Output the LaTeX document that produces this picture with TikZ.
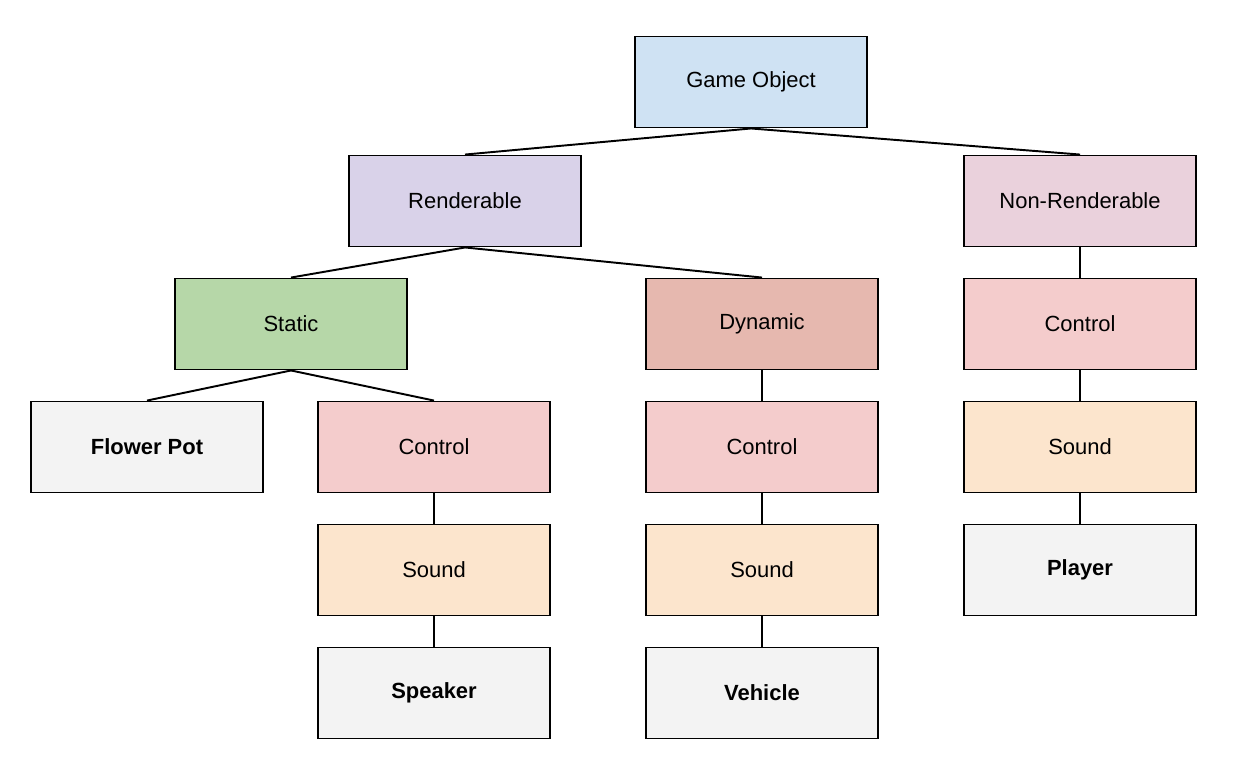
\documentclass[tikz,border=0pt]{standalone}
\usepackage{fontspec}
\setmainfont{Liberation Sans}
\definecolor{cblue}{HTML}{CFE2F3}
\definecolor{cpurple}{HTML}{D9D2E9}
\definecolor{cnr}{HTML}{EAD1DC}
\definecolor{cgreen}{HTML}{B6D7A8}
\definecolor{cdyn}{HTML}{E6B8AF}
\definecolor{cctl}{HTML}{F4CCCC}
\definecolor{csnd}{HTML}{FCE5CD}
\definecolor{cgray}{HTML}{F3F3F3}
\begin{document}
\begin{tikzpicture}[x=0.02cm,y=-0.02cm,
  box/.style={draw=black,line width=1.1pt,minimum width=4.64cm,minimum height=1.82cm,inner sep=0pt,font=\fontsize{12.5}{15}\selectfont},
  leaf/.style={box,fill=cgray,font=\fontsize{12.5}{15}\selectfont\bfseries},
  link/.style={line width=1.1pt}]
\useasboundingbox (0,0) rectangle (1246,782);
\node[box,fill=cblue] (go) at (751,82) {Game Object};
\node[box,fill=cpurple] (ren) at (465,201) {Renderable};
\node[box,fill=cnr] (nr) at (1080,201) {Non-Renderable};
\node[box,fill=cgreen] (st) at (291,324) {Static};
\node[box,fill=cdyn] (dy) at (762,324) {Dynamic};
\node[box,fill=cctl] (c3) at (1080,324) {Control};
\node[leaf] (fp) at (147,447) {Flower Pot};
\node[box,fill=cctl] (c1) at (434,447) {Control};
\node[box,fill=cctl] (c2) at (762,447) {Control};
\node[box,fill=csnd] (s3) at (1080,447) {Sound};
\node[box,fill=csnd] (s1) at (434,570) {Sound};
\node[box,fill=csnd] (s2) at (762,570) {Sound};
\node[leaf] (pl) at (1080,570) {Player};
\node[leaf] (sp) at (434,693) {Speaker};
\node[leaf] (ve) at (762,693) {Vehicle};
\draw[link] (go.south) -- (ren.north);
\draw[link] (go.south) -- (nr.north);
\draw[link] (ren.south) -- (st.north);
\draw[link] (ren.south) -- (dy.north);
\draw[link] (nr) -- (c3);
\draw[link] (st.south) -- (fp.north);
\draw[link] (st.south) -- (c1.north);
\draw[link] (dy) -- (c2);
\draw[link] (c3) -- (s3);
\draw[link] (c1) -- (s1);
\draw[link] (c2) -- (s2);
\draw[link] (s3) -- (pl);
\draw[link] (s1) -- (sp);
\draw[link] (s2) -- (ve);
\end{tikzpicture}
\end{document}
